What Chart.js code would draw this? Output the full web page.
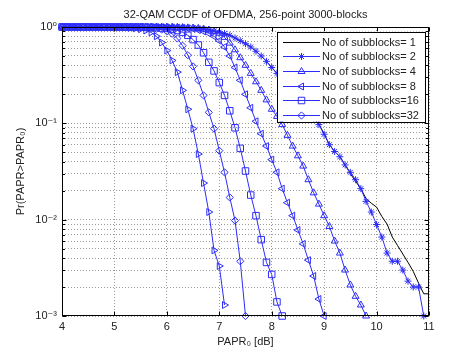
<!DOCTYPE html>
<html>
<head>
<meta charset="utf-8">
<script src="https://cdn.jsdelivr.net/npm/chart.js@4.4.0/dist/chart.umd.min.js"></script>
<style>
html,body{margin:0;padding:0;background:#fff;}
canvas{display:block;}
</style>
</head>
<body>
<canvas id="c" width="474" height="355"></canvas>
<script>
// ---------- data ----------
const chartTitle = '32-QAM CCDF of OFDMA, 256-point 3000-blocks';
const xTitle = 'PAPR\u2080 [dB]';
const yTitle = 'Pr(PAPR>PAPR\u2080)';

const paprDb = [
  4.0,4.1,4.2,4.3,4.4,4.5,4.6,4.7,4.8,4.9,
  5.0,5.1,5.2,5.3,5.4,5.5,5.6,5.7,5.8,5.9,
  6.0,6.1,6.2,6.3,6.4,6.5,6.6,6.7,6.8,6.9,
  7.0,7.1,7.2,7.3,7.4,7.5,7.6,7.7,7.8,7.9,
  8.0,8.1,8.2,8.3,8.4,8.5,8.6,8.7,8.8,8.9,
  9.0,9.1,9.2,9.3,9.4,9.5,9.6,9.7,9.8,9.9,
  10.0,10.1,10.2,10.3,10.4,10.5,10.6,10.7,10.8,10.9,
  11.0
];

const ccdfSb1 = [
  1,1,1,1,1,1,1,1,1,1,
  1,1,1,1,1,1,1,1,1,1,
  1,1,1,0.995,0.99,0.98,0.97,0.955,0.935,0.91,
  0.885,0.855,0.82,0.77,0.72,0.67,0.62,0.56,0.5,0.44,
  0.38,0.33,0.285,0.245,0.21,0.18,0.155,0.13,0.113,0.098,
  0.078,0.06,0.051,0.045,0.037,0.03,0.025,0.021,0.0165,0.0148,
  0.0135,0.0108,0.009,0.0066,0.0054,0.0044,0.0036,0.0029,0.0022,0.0017,
  0.0017
];
const ccdfSb2 = [
  1,1,1,1,1,1,1,1,1,1,
  1,1,1,1,1,1,1,1,1,1,
  1,1,1,0.995,0.99,0.98,0.97,0.955,0.935,0.91,
  0.885,0.855,0.82,0.77,0.72,0.67,0.62,0.56,0.5,0.44,
  0.38,0.33,0.285,0.245,0.21,0.18,0.155,0.13,0.113,0.097,
  0.077,0.06,0.051,0.045,0.037,0.031,0.026,0.021,0.0155,0.012,
  0.0089,0.0066,0.0045,0.0037,0.0037,0.003,0.0023,0.002,0.002,0.001
];
const ccdfSb4 = [
  1,1,1,1,1,1,1,1,1,1,
  1,1,1,1,1,1,1,1,1,1,
  1,0.995,0.99,0.985,0.98,0.975,0.965,0.95,0.93,0.9,
  0.86,0.78,0.68,0.58,0.48,0.4,0.33,0.27,0.22,0.175,
  0.14,0.118,0.097,0.075,0.058,0.046,0.036,0.026,0.019,0.0145,
  0.011,0.0085,0.006,0.0045,0.003,0.0021,0.0016,0.0013,0.001
];
const ccdfSb8 = [
  1,1,1,1,1,1,1,1,1,1,
  1,1,1,1,1,1,1,1,1,0.995,
  0.99,0.99,0.985,0.98,0.97,0.955,0.93,0.9,0.86,0.8,
  0.72,0.62,0.5,0.38,0.28,0.2,0.145,0.105,0.078,0.058,
  0.042,0.031,0.021,0.015,0.011,0.0078,0.0056,0.0038,0.0026,0.0015,
  0.001
];
const ccdfSb16 = [
  1,1,1,1,1,1,1,1,1,1,
  1,1,1,1,1,1,0.995,0.99,0.985,0.975,
  0.965,0.95,0.92,0.88,0.82,0.74,0.65,0.54,0.43,0.35,
  0.265,0.195,0.135,0.09,0.055,0.032,0.018,0.011,0.0062,0.0036,
  0.0027,0.0014,0.001
];
const ccdfSb32 = [
  1,1,1,1,1,1,1,1,1,1,
  1,1,1,1,0.995,0.99,0.985,0.975,0.96,0.94,
  0.9,0.85,0.76,0.64,0.51,0.39,0.28,0.195,0.13,0.088,
  0.052,0.031,0.017,0.0098,0.0037,0.001
];
// extra curve drawn in the figure but not listed in its legend
const ccdfExtra = [
  1,1,1,1,1,1,1,1,1,1,
  1,0.995,0.99,0.98,0.97,0.95,0.92,0.88,0.8,0.69,
  0.57,0.45,0.34,0.22,0.14,0.088,0.048,0.024,0.012,0.0048,
  0.0033,0.0013
];

const seriesLabels = [
  'No of subblocks= 1',
  'No of subblocks= 2',
  'No of subblocks= 4',
  'No of subblocks= 8',
  'No of subblocks=16',
  'No of subblocks=32'
];
const seriesValues = [ccdfSb1, ccdfSb2, ccdfSb4, ccdfSb8, ccdfSb16, ccdfSb32, ccdfExtra];

const xTicks = [4,5,6,7,8,9,10,11];
const yDecades = [0.001, 0.01, 0.1, 1];
const yDecadeLabels = ['10\u207B\u00B3', '10\u207B\u00B2', '10\u207B\u00B9', '10\u2070'];

// ---------- styling ----------
const FONT = "'Liberation Sans', Arial, 'DejaVu Sans', sans-serif";
const TXT = '#222';
const BLUE = 'rgb(45,45,250)';
const styles = [
  {color:'#000', style:null, r:0, rot:0},
  {color:BLUE, style:'star', r:3.5, rot:0},
  {color:BLUE, style:'triangle', r:4, rot:0},
  {color:BLUE, style:'triangle', r:4, rot:270},
  {color:BLUE, style:'rect', r:4.6, rot:0},
  {color:BLUE, style:'rectRot', r:3.6, rot:0},
  {color:BLUE, style:'triangle', r:4, rot:90}
];

// log-axis gridline positions (1..9 x each decade)
const yGridVals = [];
for (let d = 0; d < yDecades.length; d++) {
  if (d === yDecades.length - 1) { yGridVals.push(yDecades[d]); break; }
  for (let m = 1; m <= 9; m++) yGridVals.push(+(m * yDecades[d]).toPrecision(3));
}

const datasets = seriesValues.map((vals, k) => ({
  label: k < seriesLabels.length ? seriesLabels[k] : '',
  data: vals.map((v, i) => ({x: paprDb[i], y: v})),
  borderColor: styles[k].color,
  borderWidth: 1,
  pointStyle: styles[k].style || 'circle',
  pointRadius: styles[k].style ? styles[k].r : 0,
  pointHoverRadius: styles[k].style ? styles[k].r : 0,
  pointRotation: styles[k].rot,
  pointBorderColor: styles[k].color,
  pointBackgroundColor: 'rgba(0,0,0,0)',
  pointBorderWidth: 1,
  tension: 0,
  fill: false,
  clip: 8,
  order: 10 - k
}));

function drawMarker(ctx, style, r, rot, x, y) {
  if (Chart.helpers && Chart.helpers.drawPoint) {
    Chart.helpers.drawPoint(ctx, {pointStyle: style, radius: r, rotation: rot, borderWidth: 1}, x, y);
    return;
  }
  ctx.beginPath();
  const rad = rot * Math.PI / 180;
  if (style === 'triangle') {
    for (let j = 0; j < 3; j++) {
      const a = rad + j * 2 * Math.PI / 3;
      const px = x + Math.sin(a) * r, py = y - Math.cos(a) * r;
      j ? ctx.lineTo(px, py) : ctx.moveTo(px, py);
    }
    ctx.closePath();
  } else if (style === 'rect') {
    const s = r * Math.SQRT1_2; ctx.rect(x - s, y - s, 2 * s, 2 * s);
  } else if (style === 'rectRot') {
    ctx.moveTo(x, y - r); ctx.lineTo(x + r, y); ctx.lineTo(x, y + r); ctx.lineTo(x - r, y); ctx.closePath();
  } else if (style === 'star') {
    for (let j = 0; j < 4; j++) {
      const a = j * Math.PI / 4;
      ctx.moveTo(x - Math.cos(a) * r, y - Math.sin(a) * r);
      ctx.lineTo(x + Math.cos(a) * r, y + Math.sin(a) * r);
    }
  }
  ctx.stroke();
}

const matlabAxes = {
  id: 'matlabAxes',
  afterDatasetsDraw(chart) {
    const ctx = chart.ctx, ca = chart.chartArea;
    const xs = chart.scales.x, ys = chart.scales.y;
    const L = Math.round(ca.left) + 0.5, R = Math.round(ca.right) - 0.5;
    const T = Math.round(ca.top) + 0.5, B = Math.round(ca.bottom) - 0.5;
    ctx.save();
    ctx.strokeStyle = '#000';
    ctx.lineWidth = 1;
    ctx.strokeRect(L, T, R - L, B - T);
    ctx.beginPath();
    xTicks.forEach(v => {
      const px = Math.round(xs.getPixelForValue(v)) + 0.5;
      ctx.moveTo(px, B); ctx.lineTo(px, B - 4);
      ctx.moveTo(px, T); ctx.lineTo(px, T + 4);
    });
    yGridVals.forEach(v => {
      const py = Math.round(ys.getPixelForValue(v)) + 0.5;
      const len = yDecades.indexOf(v) >= 0 ? 4 : 2.5;
      ctx.moveTo(L, py); ctx.lineTo(L + len, py);
      ctx.moveTo(R, py); ctx.lineTo(R - len, py);
    });
    ctx.stroke();

    // legend box (inside axes, top right)
    const bx = ca.right - 152, by = ca.top + 4.5, bw = 148, bh = 90;
    ctx.fillStyle = '#fff';
    ctx.fillRect(bx, by, bw, bh);
    ctx.strokeStyle = '#000';
    ctx.strokeRect(Math.round(bx) + 0.5, Math.round(by) + 0.5, bw, bh);
    ctx.font = '11px ' + FONT;
    ctx.textBaseline = 'middle';
    ctx.textAlign = 'left';
    for (let k = 0; k < seriesLabels.length; k++) {
      const cy = Math.round(by + 10 + k * 14.7) + 0.5;
      const st = styles[k];
      ctx.strokeStyle = st.color;
      ctx.lineWidth = 1;
      ctx.beginPath();
      ctx.moveTo(bx + 6, cy); ctx.lineTo(bx + 43, cy);
      ctx.stroke();
      if (st.style) {
        ctx.fillStyle = 'rgba(0,0,0,0)';
        ctx.strokeStyle = st.color;
        drawMarker(ctx, st.style, st.r, st.rot, bx + 24.5, cy);
      }
      ctx.fillStyle = TXT;
      ctx.fillText(seriesLabels[k], bx + 45, cy);
    }
    ctx.restore();
  }
};

new Chart(document.getElementById('c'), {
  type: 'line',
  data: { datasets },
  options: {
    responsive: false,
    animation: false,
    events: [],
    layout: { padding: { left: 0, right: 45, top: 0, bottom: 0 } },
    plugins: {
      legend: { display: false },
      tooltip: { enabled: false },
      title: { display: false }
    },
    scales: {
      x: {
        type: 'linear', min: 4, max: 11,
        afterFit: s => { s.height = 39; },
        afterBuildTicks: s => { s.ticks = xTicks.map(v => ({ value: v })); },
        ticks: { color: TXT, font: { family: FONT, size: 11 }, padding: 4, autoSkip: false, maxRotation: 0,
                 callback: v => String(v) },
        grid: { color: '#9a9a9a', lineWidth: 1, drawTicks: false },
        border: { display: false, dash: [1, 2] },
        title: { display: true, text: xTitle, color: TXT, font: { family: FONT, size: 11 },
                 padding: { top: 0, bottom: 6 } }
      },
      xTop: {
        type: 'linear', position: 'top', min: 4, max: 11,
        afterFit: s => { s.height = 27; },
        ticks: { display: false },
        grid: { display: false, drawTicks: false },
        border: { display: false },
        title: { display: true, text: chartTitle, color: TXT, font: { family: FONT, size: 11 },
                 padding: { top: 8, bottom: 0 } }
      },
      y: {
        type: 'logarithmic', min: 0.001, max: 1,
        afterFit: s => { s.width = 62; },
        afterBuildTicks: s => { s.ticks = yGridVals.map(v => ({ value: v })); },
        ticks: { color: TXT, font: { family: FONT, size: 11 }, padding: 5, autoSkip: false,
                 callback: v => { const k = yDecades.indexOf(v); return k >= 0 ? yDecadeLabels[k] : ''; } },
        grid: { color: '#9a9a9a', lineWidth: 1, drawTicks: false },
        border: { display: false, dash: [1, 2] },
        title: { display: true, text: yTitle, color: TXT, font: { family: FONT, size: 11 },
                 padding: { top: 14, bottom: 0 } }
      }
    }
  },
  plugins: [matlabAxes]
});
</script>
</body>
</html>
